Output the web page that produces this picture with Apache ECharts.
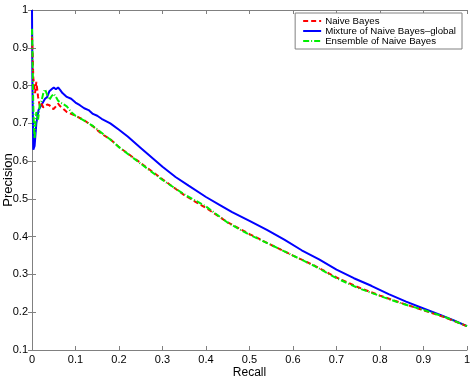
<!DOCTYPE html>
<html>
<head>
<meta charset="utf-8">
<script src="https://cdn.jsdelivr.net/npm/echarts@6/dist/echarts.min.js"></script>
<style>html,body{margin:0;padding:0;background:#fff;}#c{width:474px;height:379px;}</style>
</head>
<body>
<div id="c"></div>
<script>
const seriesNames = ['Naive Bayes', 'Mixture of Naive Bayes\u2013global', 'Ensemble of Naive Bayes'];
const xTicks = [0, 0.1, 0.2, 0.3, 0.4, 0.5, 0.6, 0.7, 0.8, 0.9, 1];
const yTicks = [0.1, 0.2, 0.3, 0.4, 0.5, 0.6, 0.7, 0.8, 0.9, 1];

const recallNB = [0, 0.001, 0.002, 0.003, 0.005, 0.007, 0.01, 0.014, 0.018, 0.022, 0.026, 0.03, 0.035, 0.04, 0.045, 0.05, 0.055, 0.06, 0.065, 0.07, 0.075, 0.08, 0.09, 0.1, 0.12, 0.14, 0.16, 0.18, 0.2, 0.25, 0.3, 0.35, 0.4, 0.45, 0.5, 0.55, 0.6, 0.65, 0.7, 0.75, 0.8, 0.85, 0.9, 0.95, 1.0];
const precNB   = [0.93, 0.90, 0.86, 0.82, 0.80, 0.78, 0.81, 0.77, 0.745, 0.752, 0.742, 0.745, 0.75, 0.748, 0.74, 0.738, 0.745, 0.752, 0.745, 0.74, 0.735, 0.73, 0.725, 0.72, 0.708, 0.692, 0.672, 0.658, 0.637, 0.595, 0.552, 0.51, 0.476, 0.438, 0.407, 0.378, 0.35, 0.323, 0.292, 0.266, 0.244, 0.224, 0.205, 0.186, 0.163];

const recallMix = [0, 0.001, 0.003, 0.006, 0.01, 0.015, 0.02, 0.025, 0.03, 0.035, 0.04, 0.045, 0.05, 0.055, 0.06, 0.065, 0.07, 0.08, 0.09, 0.1, 0.11, 0.12, 0.13, 0.14, 0.15, 0.16, 0.18, 0.2, 0.22, 0.25, 0.28, 0.3, 0.33, 0.36, 0.4, 0.43, 0.46, 0.5, 0.54, 0.58, 0.62, 0.66, 0.7, 0.74, 0.78, 0.82, 0.86, 0.9, 0.94, 0.97, 1.0];
const precMix   = [1.0, 0.80, 0.63, 0.64, 0.70, 0.735, 0.745, 0.755, 0.765, 0.77, 0.785, 0.79, 0.795, 0.79, 0.795, 0.788, 0.78, 0.77, 0.765, 0.755, 0.748, 0.74, 0.735, 0.725, 0.72, 0.712, 0.70, 0.683, 0.665, 0.635, 0.605, 0.585, 0.558, 0.535, 0.505, 0.485, 0.465, 0.442, 0.418, 0.392, 0.364, 0.34, 0.313, 0.29, 0.27, 0.248, 0.228, 0.21, 0.192, 0.178, 0.163];

const recallEns = [0, 0.001, 0.002, 0.004, 0.006, 0.008, 0.01, 0.014, 0.018, 0.022, 0.026, 0.03, 0.035, 0.04, 0.045, 0.05, 0.055, 0.06, 0.065, 0.07, 0.08, 0.09, 0.1, 0.12, 0.14, 0.16, 0.18, 0.2, 0.25, 0.3, 0.35, 0.4, 0.45, 0.5, 0.55, 0.6, 0.65, 0.7, 0.75, 0.8, 0.85, 0.9, 0.95, 1.0];
const precEns   = [0.95, 0.90, 0.80, 0.70, 0.66, 0.70, 0.73, 0.71, 0.75, 0.76, 0.78, 0.79, 0.775, 0.762, 0.772, 0.778, 0.77, 0.76, 0.755, 0.752, 0.745, 0.73, 0.72, 0.707, 0.693, 0.675, 0.657, 0.637, 0.593, 0.55, 0.512, 0.48, 0.437, 0.405, 0.378, 0.35, 0.322, 0.29, 0.264, 0.243, 0.223, 0.206, 0.187, 0.163];

const colors = ['#ff0000', '#0000ff', '#00ee00'];
const zip = (a, b) => a.map((v, i) => [v, b[i]]);

const chart = echarts.init(document.getElementById('c'), null, {renderer: 'canvas'});
const axisCol = '#808080';
const font = '"Liberation Sans", Arial, sans-serif';
const baseAxis = {
  type: 'value', min: 0, max: 1, interval: 0.1,
  axisLine: {show: true, lineStyle: {color: axisCol, width: 1}},
  axisTick: {show: true, inside: true, length: 4, lineStyle: {color: axisCol}},
  splitLine: {show: false}
};
chart.setOption({
  animation: false,
  backgroundColor: '#fff',
  grid: {left: 32, right: 7, top: 10, bottom: 29, containLabel: false, outerBoundsMode: 'none'},
  legend: {
    orient: 'vertical', right: 12, top: 13,
    data: seriesNames,
    backgroundColor: '#fff', borderColor: '#808080', borderWidth: 1,
    padding: [3, 6, 3, 7], itemGap: 0, itemWidth: 18, itemHeight: 11,
    itemStyle: {opacity: 0},
    textStyle: {fontFamily: font, fontSize: 9.7, color: '#000', padding: [0, 0, 0, -1]}
  },
  xAxis: [
    Object.assign({}, baseAxis, {
      position: 'bottom',
      name: 'Recall', nameLocation: 'middle', nameGap: 17, nameMoveOverlap: false,
      nameTextStyle: {fontFamily: font, fontSize: 12, color: '#000'},
      axisLabel: {fontFamily: font, fontSize: 11, color: '#000', margin: 4,
        formatter: v => { const t = xTicks.find(x => Math.abs(x - v) < 1e-6); return t === undefined ? '' : String(t); }}
    }),
    Object.assign({}, baseAxis, {position: 'top', axisLabel: {show: false}})
  ],
  yAxis: [
    Object.assign({}, baseAxis, {
      position: 'left', min: 0.1,
      name: 'Precision', nameLocation: 'middle', nameGap: 17, nameMoveOverlap: false,
      nameTextStyle: {fontFamily: font, fontSize: 13, color: '#000'},
      axisLabel: {fontFamily: font, fontSize: 11, color: '#000', margin: 4,
        formatter: v => { const t = yTicks.find(x => Math.abs(x - v) < 1e-6); return t === undefined ? '' : String(t); }}
    }),
    Object.assign({}, baseAxis, {position: 'right', min: 0.1, axisLabel: {show: false}})
  ],
  series: [
    {name: seriesNames[0], type: 'line', data: zip(recallNB, precNB), showSymbol: false, symbol: 'none',
      lineStyle: {color: colors[0], width: 2, type: [5, 3]}, itemStyle: {color: colors[0]}, z: 3},
    {name: seriesNames[1], type: 'line', data: zip(recallMix, precMix), showSymbol: false, symbol: 'none',
      lineStyle: {color: colors[1], width: 2, type: 'solid'}, itemStyle: {color: colors[1]}, z: 2},
    {name: seriesNames[2], type: 'line', data: zip(recallEns, precEns), showSymbol: false, symbol: 'none',
      lineStyle: {color: colors[2], width: 2, type: [6, 2, 1, 2]}, itemStyle: {color: colors[2]}, z: 4}
  ]
});
</script>
</body>
</html>
